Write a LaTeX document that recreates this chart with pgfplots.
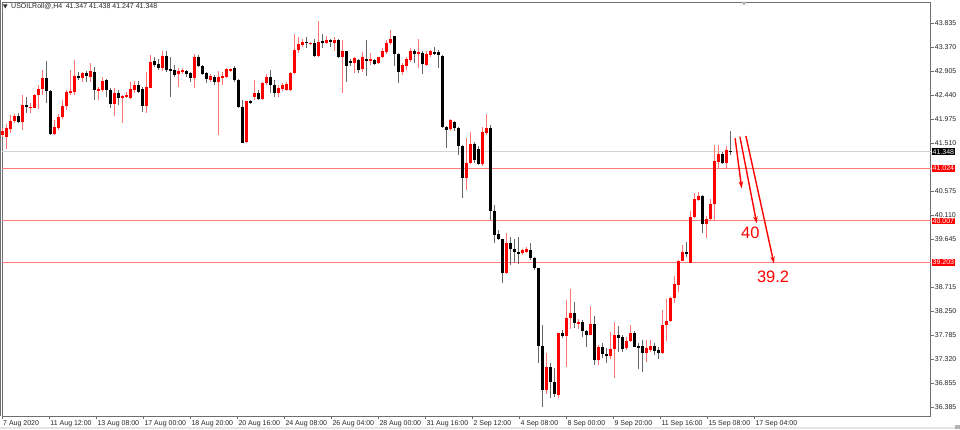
\documentclass[border=0pt]{standalone}
\usepackage{pgfplots}
\pgfplotsset{compat=1.18}
\usepackage{pgfplotstable}
\usepackage{fontspec}
\setmainfont{Liberation Sans}
\usetikzlibrary{arrows.meta}

\definecolor{lvl}{RGB}{255,120,120}
\definecolor{frm}{RGB}{110,110,110}

% H4 candles: bar index, open, high, low, close
\pgfplotstableread{
i o h l c
0 41.67 41.80 41.64 41.75
1 41.64 41.88 41.39 41.80
2 41.79 42.06 41.70 41.95
3 41.95 42.07 41.90 42.04
4 42.04 42.10 41.90 41.93
5 41.93 42.45 41.77 42.25
6 42.25 42.40 42.10 42.21
7 42.20 42.29 42.09 42.21
8 42.20 42.47 42.19 42.45
9 42.45 42.64 42.17 42.56
10 42.56 42.93 42.45 42.77
11 42.77 43.11 42.29 42.52
12 42.52 42.54 41.68 41.69
13 41.69 41.96 41.68 41.82
14 41.81 42.08 41.77 42.01
15 42.01 42.35 41.99 42.24
16 42.24 42.54 42.16 42.50
17 42.50 42.93 42.45 42.52
18 42.51 43.12 42.45 42.81
19 42.81 42.90 42.74 42.78
20 42.77 42.90 42.70 42.87
21 42.87 42.92 42.70 42.82
22 42.80 43.07 42.70 42.91
23 42.90 42.98 42.35 42.54
24 42.54 42.61 42.35 42.56
25 42.54 42.80 42.51 42.72
26 42.73 42.75 42.41 42.54
27 42.54 42.58 42.19 42.27
28 42.27 42.58 42.04 42.49
29 42.49 42.54 42.25 42.38
30 42.38 42.45 41.91 42.43
31 42.41 42.51 42.38 42.45
32 42.38 42.70 42.37 42.56
33 42.54 42.72 42.49 42.64
34 42.64 42.72 42.49 42.51
35 42.56 42.61 42.12 42.23
36 42.23 42.90 42.09 42.61
37 42.59 43.22 42.58 43.09
38 43.10 43.18 42.99 43.03
39 43.04 43.14 42.93 42.96
40 42.96 43.29 42.92 43.20
41 43.20 43.29 42.90 42.93
42 42.94 43.19 42.40 42.92
43 42.93 43.03 42.79 42.83
44 42.85 42.96 42.61 42.92
45 42.90 42.96 42.85 42.93
46 42.92 42.93 42.80 42.85
47 42.87 42.90 42.70 42.77
48 42.77 43.24 42.58 43.18
49 43.18 43.22 42.99 43.01
50 43.01 43.03 42.83 42.85
51 42.87 42.90 42.67 42.75
52 42.74 42.85 42.69 42.81
53 42.80 42.83 42.64 42.70
54 42.70 42.92 41.67 42.79
55 42.77 42.90 42.64 42.81
56 42.79 42.96 42.77 42.94
57 42.93 42.96 42.90 42.94
58 42.96 43.00 42.70 42.74
59 42.74 42.75 42.19 42.21
60 42.22 42.35 41.51 41.52
61 41.54 42.32 41.52 42.32
62 42.32 42.35 42.28 42.31
63 42.40 42.74 42.35 42.48
64 42.48 42.54 42.35 42.36
65 42.36 42.70 42.35 42.67
66 42.67 42.85 42.64 42.79
67 42.80 42.93 42.48 42.64
68 42.64 42.74 42.40 42.48
69 42.48 42.64 42.41 42.59
70 42.56 42.67 42.53 42.64
71 42.54 42.70 42.53 42.66
72 42.54 42.90 42.53 42.88
73 42.88 43.63 42.85 43.31
74 43.31 43.56 43.25 43.43
75 43.41 43.54 43.38 43.48
76 43.48 43.56 43.35 43.45
77 43.43 43.48 43.41 43.46
78 43.45 43.54 43.18 43.20
79 43.20 43.87 43.19 43.48
80 43.49 43.63 43.35 43.46
81 43.45 43.59 43.43 43.52
82 43.51 43.54 43.38 43.49
83 43.46 43.56 43.29 43.52
84 43.52 43.54 43.16 43.18
85 43.18 43.51 42.48 43.29
86 43.29 43.30 42.69 43.01
87 43.10 43.14 43.00 43.06
88 43.07 43.19 42.88 43.16
89 43.12 43.14 42.87 42.93
90 42.94 43.27 42.90 43.18
91 43.14 43.52 42.81 43.12
92 43.11 43.25 43.03 43.14
93 43.12 43.14 43.03 43.05
94 43.06 43.19 43.05 43.18
95 43.18 43.35 43.16 43.30
96 43.27 43.52 43.24 43.46
97 43.45 43.71 43.41 43.54
98 43.58 43.59 43.01 43.24
99 43.24 43.25 42.67 42.90
100 42.90 43.06 42.83 43.03
101 43.01 43.19 42.93 43.14
102 43.12 43.35 43.09 43.29
103 43.30 43.33 43.06 43.24
104 43.24 43.54 42.96 43.28
105 43.25 43.29 42.86 43.05
106 43.03 43.29 43.01 43.24
107 43.22 43.32 43.18 43.29
108 43.28 43.37 43.22 43.25
109 43.27 43.32 42.96 43.22
110 43.20 43.22 41.80 41.82
111 41.82 41.85 41.41 41.76
112 41.78 41.99 41.74 41.97
113 41.92 41.95 41.74 41.80
114 41.80 41.83 41.28 41.46
115 41.46 41.48 40.45 40.83
116 40.83 41.61 40.61 41.13
117 41.13 41.72 41.10 41.50
118 41.50 41.53 41.13 41.19
119 41.40 41.45 41.08 41.11
120 41.10 41.83 41.07 41.72
121 41.70 42.07 41.67 41.81
122 41.81 41.86 40.02 40.19
123 40.19 40.32 39.58 39.73
124 39.75 39.83 39.64 39.65
125 39.65 39.66 38.80 38.99
126 38.99 39.77 38.98 39.57
127 39.57 39.69 39.15 39.46
128 39.46 39.65 39.19 39.41
129 39.40 39.69 39.17 39.38
130 39.38 39.46 39.35 39.44
131 39.41 39.51 39.38 39.46
132 39.44 39.57 39.25 39.28
133 39.28 39.31 39.06 39.09
134 39.09 39.10 37.25 37.58
135 37.58 37.99 36.41 36.73
136 36.73 37.44 36.65 37.17
137 37.17 37.25 36.57 36.89
138 36.89 37.15 36.59 36.65
139 36.64 37.84 36.57 37.83
140 37.84 37.89 37.74 37.78
141 37.78 38.47 37.18 38.12
142 38.12 38.68 37.91 38.22
143 38.22 38.44 37.93 38.03
144 38.02 38.10 37.91 38.05
145 38.05 38.09 37.76 37.88
146 37.88 37.89 37.57 37.80
147 37.80 38.36 37.79 38.01
148 38.01 38.16 37.22 37.31
149 37.31 37.60 37.22 37.57
150 37.57 37.65 37.36 37.43
151 37.43 37.54 37.25 37.39
152 37.39 37.86 37.34 37.52
153 37.52 38.05 36.96 37.80
154 37.80 37.97 37.47 37.73
155 37.75 37.80 37.47 37.52
156 37.54 37.76 37.51 37.67
157 37.68 37.99 37.67 37.84
158 37.84 37.88 37.56 37.57
159 37.58 37.64 37.13 37.56
160 37.58 37.69 37.07 37.45
161 37.45 37.70 37.28 37.54
162 37.51 37.70 37.47 37.58
163 37.58 37.64 37.41 37.49
164 37.50 37.57 37.33 37.45
165 37.44 38.28 37.43 37.99
166 37.99 38.49 37.67 38.07
167 38.06 38.54 38.05 38.51
168 38.51 38.93 38.41 38.78
169 38.76 39.25 38.62 39.23
170 39.23 39.54 39.22 39.41
171 39.41 39.60 39.31 39.37
172 39.20 40.19 39.19 40.08
173 40.08 40.54 40.06 40.43
174 40.41 40.57 40.40 40.48
175 40.48 40.51 39.77 39.95
176 39.95 40.10 39.67 40.04
177 40.04 40.44 40.02 40.33
178 40.33 41.48 40.01 41.17
179 41.15 41.48 41.01 41.30
180 41.30 41.35 41.11 41.12
181 41.12 41.46 41.01 41.38
182 41.36 41.74 41.28 41.348
}\bars

\pgfplotsset{
  candle/.style={only marks, mark=text, text mark={}, mark options={opacity=0},
    error bars/.cd, y dir=both, y explicit, error mark=none},
}

\begin{document}
\begin{tikzpicture}[x=1pt,y=1pt]
\useasboundingbox (0,0) rectangle (960,429);
\fill[white] (0,0) rectangle (960,429);
\fill[gray!20] (0,0) rectangle (960,2.5);
\fill[gray!60] (955,0) rectangle (960,4);
\begin{axis}[
  at={(2pt,13pt)}, anchor=south west, scale only axis,
  width=928.7pt, height=414pt,
  xmin=-0.175, xmax=232, ymin=36.2264, ymax=44.2477,
  clip=false,
  axis line style={frm, line width=0.8pt},
  tick align=outside, major tick length=3pt,
  tick style={frm, line width=0.6pt},
  xtick pos=left, ytick pos=right, yticklabel pos=right,
  xtick={-0.175,11.65,23.4,35.15,46.9,58.65,70.4,82.15,93.9,105.65,117.4,129.15,140.9,152.65,164.4,176.15,187.9},
  xticklabels={7 Aug 2020,11 Aug 12:00,13 Aug 08:00,17 Aug 00:00,18 Aug 20:00,20 Aug 16:00,24 Aug 08:00,26 Aug 04:00,28 Aug 00:00,31 Aug 16:00,2 Sep 12:00,4 Sep 08:00,8 Sep 00:00,9 Sep 20:00,11 Sep 16:00,15 Sep 08:00,17 Sep 04:00},
  ytick={43.835,43.370,42.905,42.440,41.975,41.510,40.575,40.110,39.645,38.715,38.250,37.785,37.320,36.855,36.39},
  yticklabels={43.835,43.370,42.905,42.440,41.975,41.510,40.575,40.110,39.645,38.715,38.250,37.785,37.320,36.855,36.385},
  ticklabel style={font=\fontsize{7}{8}\selectfont, text=black!85},
  xticklabel style={anchor=north west, inner sep=1pt},
  yticklabel style={anchor=west, inner sep=1pt},
]
% levels and current price
\addplot[gray!35, line width=0.8pt] coordinates {(-0.175,41.348) (232,41.348)};
\addplot[lvl, line width=0.9pt] coordinates {(-0.175,41.024) (232,41.024)};
\addplot[lvl, line width=0.9pt] coordinates {(-0.175,40.007) (232,40.007)};
\addplot[lvl, line width=0.9pt] coordinates {(-0.175,39.203) (232,39.203)};

% wicks
\addplot[candle, error bar style={line width=0.9pt, red!55}]
  table[x=i, y expr={\thisrow{c}<\thisrow{o} ? nan : (\thisrow{h}+\thisrow{l})/2},
        y error expr={(\thisrow{h}-\thisrow{l})/2}] {\bars};
\addplot[candle, error bar style={line width=0.9pt, black!60}]
  table[x=i, y expr={\thisrow{c}<\thisrow{o} ? (\thisrow{h}+\thisrow{l})/2 : nan},
        y error expr={(\thisrow{h}-\thisrow{l})/2}] {\bars};
% bodies
\addplot[candle, error bar style={line width=2.6pt, red}]
  table[x=i, y expr={\thisrow{c}<\thisrow{o} ? nan : (\thisrow{o}+\thisrow{c})/2},
        y error expr={max(abs(\thisrow{c}-\thisrow{o})/2,0.012)}] {\bars};
\addplot[candle, error bar style={line width=2.6pt, black}]
  table[x=i, y expr={\thisrow{c}<\thisrow{o} ? (\thisrow{o}+\thisrow{c})/2 : nan},
        y error expr={max(abs(\thisrow{c}-\thisrow{o})/2,0.012)}] {\bars};

% forecast arrows and targets
\draw[red, line width=1.4pt, -{Stealth[length=7pt,width=4.5pt]}] (axis cs:183.1,41.607) -- (axis cs:184.75,40.638);
\draw[red, line width=1.4pt, -{Stealth[length=7pt,width=4.5pt]}] (axis cs:184.3,41.638) -- (axis cs:188.5,39.960);
\draw[red, line width=1.4pt, -{Stealth[length=7pt,width=4.5pt]}] (axis cs:185.8,41.651) -- (axis cs:192.8,39.185);
\node[text=red, font=\fontsize{16.5}{18}\selectfont] at (axis cs:186.9,39.772) {40};
\node[text=red, font=\fontsize{16.5}{18}\selectfont] at (axis cs:192.6,38.920) {39.2};

% price labels on the scale
\node[anchor=west, fill=black, text=white, inner sep=0.8pt, xshift=1pt, font=\fontsize{7}{8}\selectfont] at (axis cs:232,41.348) {41.348};
\node[anchor=west, fill=red, text=white, inner sep=0.8pt, xshift=1pt, font=\fontsize{7}{8}\selectfont] at (axis cs:232,41.024) {41.024};
\node[anchor=west, fill=red, text=white, inner sep=0.8pt, xshift=1pt, font=\fontsize{7}{8}\selectfont] at (axis cs:232,40.007) {40.007};
\node[anchor=west, fill=red, text=white, inner sep=0.8pt, xshift=1pt, font=\fontsize{7}{8}\selectfont] at (axis cs:232,39.203) {39.203};
\end{axis}
\draw[frm, line width=0.8pt] (0.5,13) -- (0.5,429);
\fill[black!80] (3,424.5) -- (7.5,424.5) -- (5.25,420.5) -- cycle;
\node[anchor=west, inner sep=0pt, font=\fontsize{7}{8}\selectfont, text=black!85] at (11,422.3) {USOILRoll@,H4\enspace 41.347 41.438 41.247 41.348};
\fill[gray!60] (741.5,427) -- (746.5,427) -- (744,423.5) -- cycle;
\end{tikzpicture}
\end{document}
